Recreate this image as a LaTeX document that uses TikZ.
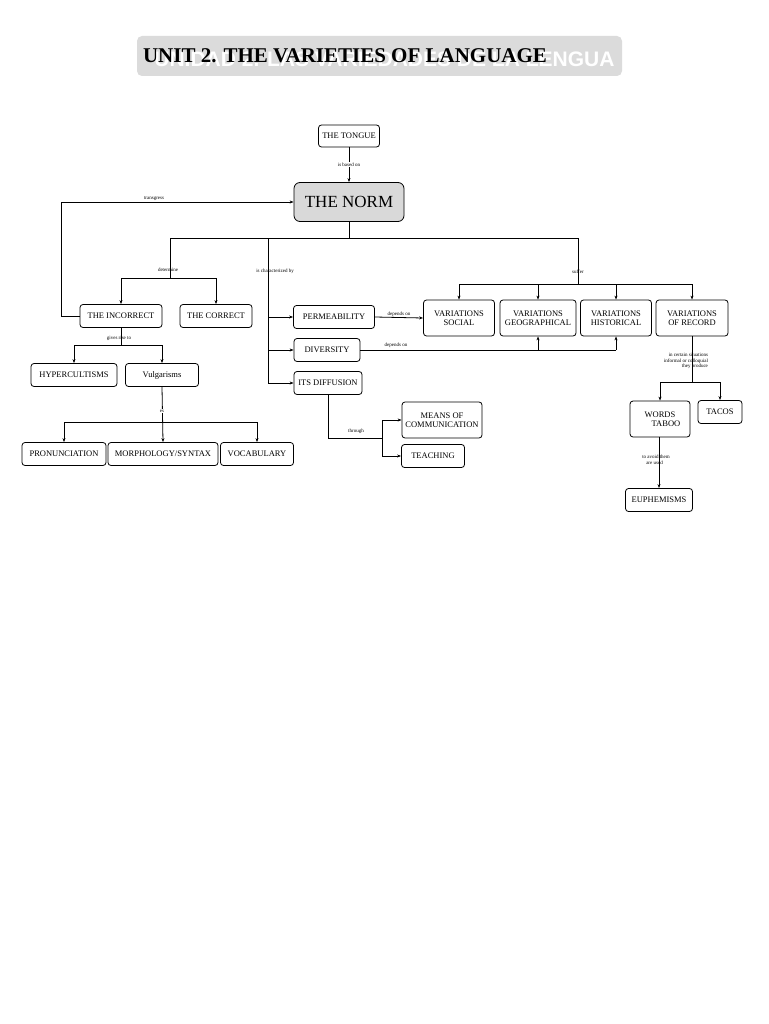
\documentclass[tikz,border=0pt]{standalone}
\usepackage{fontspec}
\setmainfont{Liberation Serif}
\setsansfont{Liberation Sans}
\usetikzlibrary{arrows.meta}
\begin{document}
\begin{tikzpicture}[x=1pt,y=-1pt,
  box/.style={draw,rounded corners=3pt,line width=0.8pt,font=\fontsize{8.5}{9.5}\selectfont,align=center,inner sep=0pt},
  lbl/.style={font=\fontsize{5}{5.5}\selectfont,inner sep=0.5pt,align=center},
  ln/.style={line width=0.8pt},
  ar/.style={line width=0.8pt,-{Stealth[length=4pt,width=3pt]}}]
\useasboundingbox (0,0) rectangle (768,1024);
\fill[white] (0,0) rectangle (768,1024);
% title
\fill[black!14,rounded corners=5pt] (137,36) rectangle (622,76);
\node[font=\sffamily\bfseries\fontsize{21}{22}\selectfont,text=white,anchor=east] (ghost) at (618,59) {UNIDAD 2. LAS VARIEDADES DE LA LENGUA};
\node[font=\bfseries\fontsize{21}{22}\selectfont] (title) at (345,56) {UNIT 2. THE VARIETIES OF LANGUAGE};
% nodes
\node[box,minimum width=61,minimum height=22] (tongue) at (349,136) {THE TONGUE};
\node[box,fill=black!15,minimum width=110,minimum height=39,font=\fontsize{17}{18}\selectfont,rounded corners=6pt] (norm) at (349,202) {THE NORM};
\node[box,minimum width=82,minimum height=23] (inc) at (121,316) {THE INCORRECT};
\node[box,minimum width=72,minimum height=23] (cor) at (216,316) {THE CORRECT};
\node[box,minimum width=81,minimum height=23] (perm) at (334,317) {PERMEABILITY};
\node[box,minimum width=66,minimum height=23] (div) at (327,350) {DIVERSITY};
\node[box,minimum width=68,minimum height=23] (diff) at (328,383) {ITS DIFFUSION};
\node[box,minimum width=71,minimum height=36] (vs) at (459,318) {VARIATIONS\\SOCIAL};
\node[box,minimum width=76,minimum height=36] (vg) at (538,318) {VARIATIONS\\GEOGRAPHICAL};
\node[box,minimum width=71,minimum height=36] (vh) at (616,318) {VARIATIONS\\HISTORICAL};
\node[box,minimum width=72,minimum height=36] (vr) at (692,318) {VARIATIONS\\OF RECORD};
\node[box,minimum width=86,minimum height=23] (hyp) at (74,375) {HYPERCULTISMS};
\node[box,minimum width=73,minimum height=23] (vul) at (162,375) {Vulgarisms};
\node[box,minimum width=84,minimum height=23] (pro) at (64,454) {PRONUNCIATION};
\node[box,minimum width=110,minimum height=23] (mor) at (163,454) {MORPHOLOGY/SYNTAX};
\node[box,minimum width=73,minimum height=23] (voc) at (257,454) {VOCABULARY};
\node[box,minimum width=80,minimum height=36] (mea) at (442,420) {MEANS OF\\COMMUNICATION};
\node[box,minimum width=63,minimum height=23] (tea) at (433,456) {TEACHING};
\node[box,minimum width=60,minimum height=36] (wor) at (660,419) {WORDS\\\hspace*{12pt}TABOO};
\node[box,minimum width=44,minimum height=23] (tac) at (720,412) {TACOS};
\node[box,minimum width=67,minimum height=23] (eup) at (659,500) {EUPHEMISMS};
% connectors
\draw[ar] (tongue) -- node[lbl,fill=white]{is based on} (norm);
\draw[ln] (norm.south) -- (349,238) coordinate (h);
\draw[ln] (170,238) -- (578,238);
\draw[ln] (170,238) -- (170,278) coordinate (d);
\node[lbl] (ldet) at (168,270) {determine};
\draw[ar] (121,278) -- (inc.north);
\draw[ar] (121,278) -| (cor.north);
\draw[ln] (268,238) -- (268,383);
\node[lbl] (lchar) at (275,271) {is characterized by};
\draw[ar] (268,317) -- (perm.west);
\draw[ar] (268,350) -- (div.west);
\draw[ar] (268,383) -- (diff.west);
\draw[ln] (578,238) -- (578,284);
\node[lbl] (lsuf) at (578,272) {suffer};
\draw[ln] (459,284) -- (692,284);
\draw[ar] (459,284) -- (vs.north);
\draw[ar] (538,284) -- (vg.north);
\draw[ar] (616,284) -- (vh.north);
\draw[ar] (692,284) -- (vr.north);
\draw[ar] (inc.west) -- (61,316) |- node[lbl,pos=0.7,above=0.5pt]{transgress} (norm.west);
\draw[ln] (inc.south) -- (121,345);
\node[lbl] (lgiv) at (119,338) {gives rise to};
\draw[ar] (74,345) -- (hyp.north);
\draw[ar] (74,345) -| (vul.north);
\draw[ar] (vul.south) -- (mor.north);
\node[lbl,fill=white] (les) at (162,411) {es};
\draw[ar] (64,422) -- (pro.north);
\draw[ln] (64,422) -- (257,422);
\draw[ar] (257,422) -- (voc.north);
\draw[ar] (perm.east) -- node[lbl,above=0.3pt]{depends on} (vs.west);
\draw[ln] (div.east) -- (616,350);
\node[lbl] (ldep) at (396,345) {depends on};
\draw[ar] (538,350) -- (vg.south);
\draw[ar] (616,350) -- (vh.south);
\draw[ln] (diff.south) -- (328,438) -- (382,438);
\node[lbl] (lthr) at (356,431) {through};
\draw[ln] (382,420) -- (382,456);
\draw[ar] (382,420) -- (mea.west);
\draw[ar] (382,456) -- (tea.west);
\draw[ln] (vr.south) -- (692,382);
\node[lbl,align=right] (lrec) at (683,361) {in certain situations\\\hspace*{6pt}informal or colloquial\\they produce};
\draw[ln] (660,382) -- (720,382);
\draw[ar] (660,382) -- (wor.north);
\draw[ar] (720,382) -- (tac.north);
\draw[ar] (659,437) -- (eup.north);
\node[lbl,align=left] (lavo) at (656,460) {to avoid them\\\hspace*{4pt}are used};
\end{tikzpicture}
\end{document}
